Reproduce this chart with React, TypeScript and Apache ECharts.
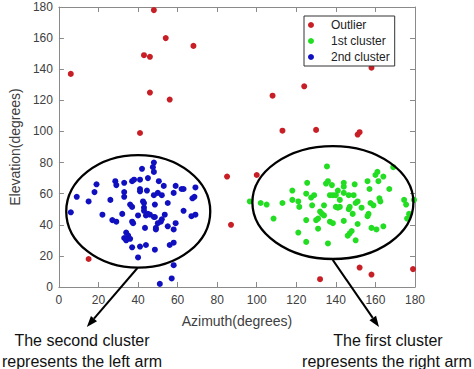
import React, { useEffect, useRef } from "react";
import * as echarts from "echarts";

const xTicks = { min: 0, max: 180, interval: 20 };
const yTicks = { min: 0, max: 180, interval: 20 };

const outlierData: number[][] = [
  [6, 137], [48, 178], [54, 160], [68, 155], [43, 149], [46, 148], [46, 125], [56, 120.5], [41, 99],
  [158, 141], [124, 129], [108, 123], [113, 100.5], [130, 101], [151, 98], [152, 99.5],
  [15, 18], [85, 71], [87, 40], [100, 72], [132, 5], [152, 12.5], [158, 8], [179, 11.5],
];

const cluster1Data: number[][] = [
  [96.5, 55], [102, 54], [105, 53], [108.5, 44], [113, 54], [118, 62], [118, 56], [121, 35], [121, 55],
  [121.5, 51.5], [125, 43], [125, 29], [125, 60], [125.5, 67], [127.5, 57.5], [129, 59], [128, 52.5],
  [130, 43], [131, 44], [131, 37.5], [132, 48.5], [133, 47], [134, 46], [134, 52.5], [135, 66.5],
  [135.5, 77.5], [136, 68], [136, 28], [137, 42], [138.5, 41], [137, 59], [138.5, 59], [138, 65.5],
  [140, 59], [141, 62], [140, 51.5], [141, 51], [142, 56], [142, 51.5], [144, 67], [144, 64.5],
  [144, 60.5], [144, 42.5], [146, 33], [146.5, 59], [146.5, 50], [147, 51.5], [147, 34.5], [148, 36],
  [148.5, 47], [149, 59], [149.5, 66], [150, 54], [151, 55], [151, 40.5], [150, 30], [153, 51],
  [156, 45.5], [156.5, 47], [156, 68], [157, 63], [157.5, 54], [158, 38], [159, 52.5], [160.5, 37],
  [160, 72], [161, 74], [161.5, 68], [162, 57], [162.5, 55], [164, 71], [164, 39], [167, 63], [169, 77],
  [174.5, 56], [175.5, 53], [176, 44], [177, 47], [179.5, 56],
];

const cluster2Data: number[][] = [
  [6, 48], [9, 58], [15, 55], [18, 61], [19, 66], [22, 46.5], [26, 56], [27, 43], [29, 42], [28.5, 68],
  [29, 65.5], [32, 47], [33, 67], [33, 61], [33, 58], [33, 31.5], [34, 35], [35, 33], [34, 30], [36, 31],
  [36, 53], [37, 51.5], [37, 25.5], [37, 42], [37.5, 41], [37, 68], [38, 69], [40, 19], [40, 46], [41, 69],
  [41, 63], [41, 61.5], [41, 26], [42, 76], [42.5, 55], [43, 54], [43, 51], [43, 49], [43.5, 38], [44, 27],
  [44, 46], [45, 70], [44.5, 62], [45, 47], [46, 46.5], [48, 80], [48, 74], [47.5, 77], [48, 59], [48, 45],
  [48.5, 45], [48.5, 53], [49, 38], [49, 37], [48.5, 24], [50, 41], [50, 60.5], [50.5, 68], [52, 59],
  [51.5, 42], [52, 43.5], [53.5, 46.5], [53, 65], [55, 54], [55, 39], [56, 27], [58, 28.5], [58, 37],
  [58, 60.5], [59, 65], [59, 41], [58, 14], [57, 5.5], [51, 2], [62, 63], [63, 63], [63, 49], [67.5, 57],
  [68.5, 58], [69, 64], [67, 45.5], [69, 46.5],
];

// ellipse annotations: [centerX, centerY, radiusX, radiusY] in data units
const ellipseData: number[][] = [
  [40.1, 48.6, 36.4, 36.2],
  [138.5, 54.3, 40.7, 36.3],
];

// arrows: [x1, y1, x2, y2] in data units (end below the axis)
const arrowData: number[][] = [
  [39.7, 12.2, 14.1, -25.7],
  [138.4, 17.4, 161.8, -25.7],
];

const seriesNames = ["Outlier", "1st cluster", "2nd cluster"];
const seriesColors = ["#c81e26", "#22dd22", "#1010c0"];

const captionLines = [
  ["The second cluster", "represents the left arm"],
  ["The first cluster", "represents the right arm"],
];

const FONT = "'Liberation Sans', Arial, sans-serif";

export default function App() {
  const ref = useRef<HTMLDivElement>(null);
  useEffect(() => {
    if (!ref.current) return;
    const chart = echarts.init(ref.current, undefined, { renderer: "svg" });
    const axisColor = "#8a8a8a";
    const labelColor = "#404040";
    const baseX = {
      type: "value" as const,
      min: xTicks.min,
      max: xTicks.max,
      interval: xTicks.interval,
      axisLine: { show: true, onZero: false, lineStyle: { color: axisColor, width: 1 } },
      axisTick: { show: true, inside: true, length: 5, lineStyle: { color: axisColor } },
      splitLine: { show: false },
    };
    const baseY = {
      type: "value" as const,
      min: yTicks.min,
      max: yTicks.max,
      interval: yTicks.interval,
      axisLine: { show: true, onZero: false, lineStyle: { color: axisColor, width: 1 } },
      axisTick: { show: true, inside: true, length: 5, lineStyle: { color: axisColor } },
      splitLine: { show: false },
    };
    const datas = [outlierData, cluster1Data, cluster2Data];
    chart.setOption({
      animation: false,
      textStyle: { fontFamily: FONT },
      grid: { left: 56, right: 59, top: 7, bottom: 82, containLabel: false },
      legend: {
        data: seriesNames,
        orient: "vertical",
        left: 304,
        top: 16,
        padding: [2, 5, 2, 4],
        itemWidth: 30,
        itemHeight: 6,
        itemGap: 2,
        icon: "circle",
        borderColor: "#333",
        borderWidth: 1,
        backgroundColor: "#fff",
        textStyle: { fontSize: 12, color: "#222", lineHeight: 14, fontFamily: FONT },
      },
      xAxis: [
        {
          ...baseX,
          position: "bottom",
          axisLabel: { color: labelColor, fontSize: 12, margin: 7, fontFamily: FONT },
          name: "Azimuth(degrees)",
          nameLocation: "middle",
          nameGap: 27,
          nameTextStyle: { fontSize: 14, color: labelColor, fontFamily: FONT },
        },
        { ...baseX, position: "top", axisLabel: { show: false } },
      ],
      yAxis: [
        {
          ...baseY,
          position: "left",
          axisLabel: { color: labelColor, fontSize: 12, margin: 6, fontFamily: FONT },
          name: "Elevation(degrees)",
          nameLocation: "middle",
          nameGap: 31,
          nameTextStyle: { fontSize: 14, color: labelColor, fontFamily: FONT },
        },
        { ...baseY, position: "right", axisLabel: { show: false } },
      ],
      series: [
        ...seriesNames.map((name, i) => ({
          name,
          type: "scatter",
          data: datas[i],
          symbol: "circle",
          symbolSize: 6,
          itemStyle: { color: seriesColors[i], opacity: 1 },
          xAxisIndex: 0,
          yAxisIndex: 0,
          z: 3,
        })),
        {
          type: "custom",
          name: "ellipses",
          data: ellipseData,
          clip: false,
          silent: true,
          z: 4,
          renderItem: (_p: any, api: any) => {
            const c = api.coord([api.value(0), api.value(1)]);
            const s = api.size([api.value(2), api.value(3)]);
            return {
              type: "ellipse",
              shape: { cx: c[0], cy: c[1], rx: s[0], ry: s[1] },
              style: { fill: "none", stroke: "#000", lineWidth: 2.3 },
            };
          },
        },
        {
          type: "custom",
          name: "arrows",
          data: arrowData,
          clip: false,
          silent: true,
          z: 4,
          renderItem: (_p: any, api: any) => {
            const a = api.coord([api.value(0), api.value(1)]);
            const b = api.coord([api.value(2), api.value(3)]);
            const dx = b[0] - a[0];
            const dy = b[1] - a[1];
            const len = Math.sqrt(dx * dx + dy * dy);
            const ux = dx / len;
            const uy = dy / len;
            const hl = 11;
            const hw = 4;
            const bx = b[0] - ux * hl;
            const by = b[1] - uy * hl;
            return {
              type: "group",
              children: [
                {
                  type: "line",
                  shape: { x1: a[0], y1: a[1], x2: bx, y2: by },
                  style: { stroke: "#000", lineWidth: 2 },
                },
                {
                  type: "polygon",
                  shape: {
                    points: [
                      [b[0], b[1]],
                      [bx - uy * hw, by + ux * hw],
                      [bx + uy * hw, by - ux * hw],
                    ],
                  },
                  style: { fill: "#000" },
                },
              ],
            };
          },
        },
      ],
      graphic: [
        { type: "text", x: 82, y: 340, style: { text: captionLines[0][0], fontSize: 16, fill: "#111", align: "center", verticalAlign: "middle", fontFamily: FONT } },
        { type: "text", x: 82, y: 361, style: { text: captionLines[0][1], fontSize: 16, fill: "#111", align: "center", verticalAlign: "middle", fontFamily: FONT } },
        { type: "text", x: 388, y: 340, style: { text: captionLines[1][0], fontSize: 16, fill: "#111", align: "center", verticalAlign: "middle", fontFamily: FONT } },
        { type: "text", x: 387, y: 361, style: { text: captionLines[1][1], fontSize: 16, fill: "#111", align: "center", verticalAlign: "middle", fontFamily: FONT } },
      ],
    });
    return () => chart.dispose();
  }, []);
  return <div ref={ref} style={{ width: 474, height: 369, position: "absolute", left: 0, top: 0, background: "#fff" }} />;
}
